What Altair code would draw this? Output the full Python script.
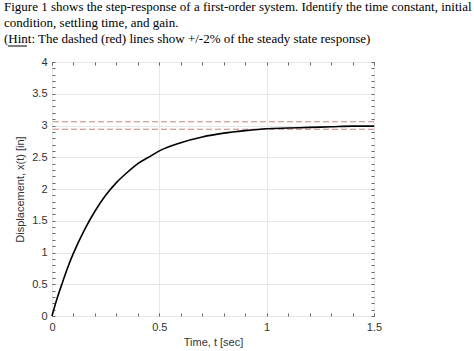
import altair as alt
import pandas as pd

# Step response
t_sec = [0, 0.025, 0.05, 0.075, 0.1, 0.15, 0.2, 0.25, 0.3, 0.35, 0.4, 0.45,
         0.5, 0.6, 0.7, 0.8, 0.9, 1.0, 1.1, 1.2, 1.3, 1.4, 1.5]
disp_in = [0, 0.29, 0.54, 0.78, 0.99, 1.35, 1.65, 1.90, 2.10, 2.26, 2.40, 2.50,
           2.60, 2.73, 2.82, 2.88, 2.92, 2.95, 2.96, 2.97, 2.98, 2.99, 2.99]
band_levels = [2.94, 3.06]  # +/-2% of steady state (3)

x_major = [0, 0.5, 1, 1.5]
y_major = [0, 0.5, 1, 1.5, 2, 2.5, 3, 3.5, 4]
x_minor = [0, 0.1, 0.2, 0.3, 0.4, 0.5, 0.6, 0.7, 0.8, 0.9, 1.0, 1.1, 1.2, 1.3, 1.4, 1.5]
y_minor = [round(i * 0.1, 1) for i in range(41)]

title_lines = [
    "Figure 1 shows the step-response of a first-order system. Identify the time constant, initial",
    "condition, settling time, and gain.",
    "(Hint: The dashed (red) lines show +/-2% of the steady state response)",
]

W, H = 322, 254
curve_df = pd.DataFrame({"t": t_sec, "x": disp_in})
band_df = pd.DataFrame({"v": band_levels})

xs = alt.Scale(domain=[0, 1.5], nice=False, zero=False)
ys = alt.Scale(domain=[0, 4], nice=False, zero=False)

FONT = "Liberation Sans"
LBL = "#333333"

ax_x_main = alt.Axis(values=x_major, format="~g", title="Time, t [sec]", grid=True,
                     gridColor="#e6e6e6", ticks=False, domain=False, labelFlush=False,
                     labelFont=FONT, labelFontSize=11, labelColor=LBL, labelPadding=5,
                     titleFont=FONT, titleFontSize=11, titleFontWeight="normal",
                     titleColor=LBL, titlePadding=4)
ax_y_main = alt.Axis(values=y_major, format="~g", title="Displacement, x(t) [in]", grid=True,
                     gridColor="#e6e6e6", ticks=False, domain=False, labelFlush=False,
                     labelFont=FONT, labelFontSize=11, labelColor=LBL, labelPadding=5,
                     titleFont=FONT, titleFontSize=11, titleFontWeight="normal",
                     titleColor=LBL, titlePadding=6)

def tick_axis(vals, orient, offset):
    return alt.Axis(values=vals, orient=orient, offset=offset, labels=False, title=None,
                    grid=False, domain=False, ticks=True, tickSize=3,
                    tickColor="#666666", tickWidth=1)

curve = alt.Chart(curve_df).mark_line(color="black", strokeWidth=1.6, interpolate="monotone").encode(
    x=alt.X("t:Q", scale=xs, axis=ax_x_main),
    y=alt.Y("x:Q", scale=ys, axis=ax_y_main),
)

bands = alt.Chart(band_df).mark_rule(color="#c98585", strokeWidth=1.1, strokeDash=[6, 3]).encode(
    y=alt.Y("v:Q", scale=ys, axis=None),
)

# inward ticks on top / right edges
ticks_tr = alt.Chart(curve_df).mark_point(opacity=0).encode(
    x=alt.X("t:Q", scale=xs, axis=tick_axis(x_minor, "bottom", -H)),
    y=alt.Y("x:Q", scale=ys, axis=tick_axis(y_minor, "left", -W)),
)
# inward ticks on bottom / left edges
ticks_bl = alt.Chart(curve_df).mark_point(opacity=0).encode(
    x=alt.X("t:Q", scale=xs, axis=tick_axis(x_minor, "top", -H)),
    y=alt.Y("x:Q", scale=ys, axis=tick_axis(y_minor, "right", -W)),
)

underline = alt.Chart(pd.DataFrame({"a": [0]})).mark_rule(color="black", strokeWidth=1).encode(
    x=alt.value(-44), x2=alt.value(-25), y=alt.value(-16)
)

chart = alt.layer(bands, curve, ticks_tr, ticks_bl, underline).resolve_axis(
    x="independent", y="independent"
).properties(
    width=W, height=H,
    padding={"left": 52, "top": 62, "right": 100, "bottom": 35},
    autosize=alt.AutoSizeParams(type="none"),
    title=alt.Title(text=title_lines, anchor="start", frame="group", dx=-48, offset=0,
                    font="Liberation Serif", fontSize=13, fontWeight="normal",
                    color="black", lineHeight=16),
).configure_view(stroke="#262626", strokeWidth=1)

chart.save("out.html", embed_options={"renderer": "svg", "actions": False})
